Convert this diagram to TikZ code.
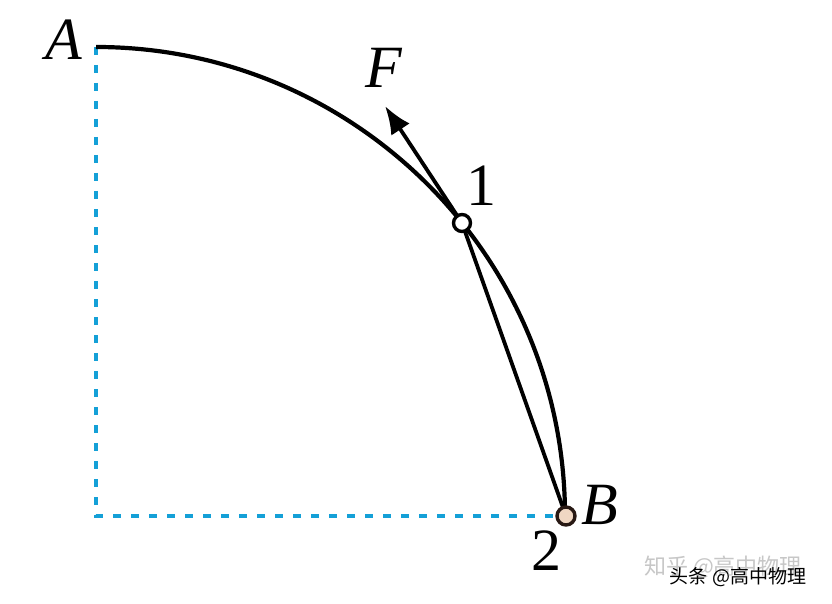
\documentclass[tikz,border=0pt]{standalone}
\usepackage{fontspec}
\setmainfont{Liberation Serif}
\newfontfamily\cjk{Noto Sans CJK SC}
\usetikzlibrary{arrows.meta}
\definecolor{dashblue}{RGB}{20,160,215}
\definecolor{ballfill}{RGB}{240,215,195}
\definecolor{ballline}{RGB}{40,25,20}
\tikzset{
  curve/.style={line width=4.2pt, black},
  guide/.style={line width=3.8pt, dashblue, dash pattern=on 8pt off 10pt},
  lbl/.style={font=\fontsize{60}{64}\selectfont\itshape, inner sep=0pt},
  num/.style={font=\fontsize{60}{64}\selectfont, inner sep=0pt},
  wm/.style={inner sep=0pt}
}
\begin{document}
\begin{tikzpicture}[x=1pt,y=-1pt]
\useasboundingbox (0,0) rectangle (832,604);
\fill[white] (0,0) rectangle (832,604);
\coordinate (C) at (96,516);
\coordinate (A) at (96,47);
\coordinate (B) at (566,516);
\coordinate (P1) at (462,223);
\coordinate (Ftip) at (385,106);
% dashed guides
\draw[guide] (A) -- (C) -- (B);
% arc and chord
\draw[curve] (A) arc[start angle=-90, end angle=0, radius=469];
\draw[curve, line width=3.8pt] (P1) -- (B);
% force arrow
\draw[curve, line width=3.8pt, -{Latex[length=28pt,width=22pt]}] (P1) -- (Ftip);
% points
\draw[line width=3.4pt, fill=white] (P1) circle[radius=8.5];
\draw[line width=3.4pt, draw=ballline, fill=ballfill] (B) circle[radius=9];
% labels
\node[lbl] (la) at (64,40) {A};
\node[lbl] (lf) at (384,68) {F};
\node[num] (l1) at (481,186) {1};
\node[lbl] (lb) at (600,505) {B};
\node[num] (l2) at (546,551) {2};
% watermark
\node[wm, text=black!22, font=\cjk\fontsize{22}{24}\selectfont] (wm1) at (723,567) {知乎 @高中物理};
\node[wm, text=black, font=\cjk\fontsize{19}{21}\selectfont] (wm2) at (738,577) {头条 @高中物理};
\end{tikzpicture}
\end{document}
